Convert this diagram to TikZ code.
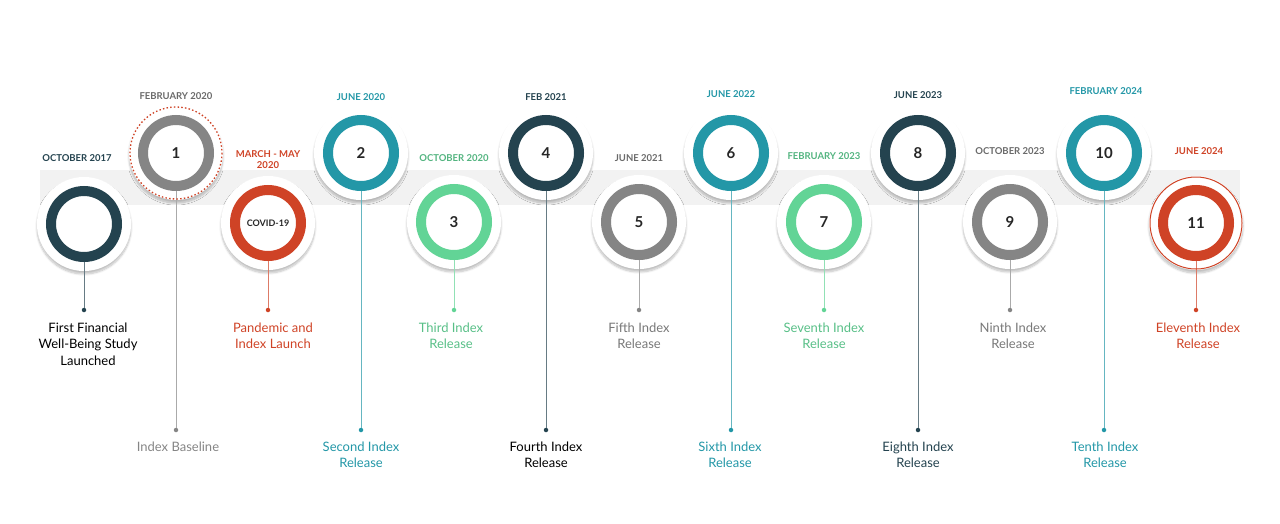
\documentclass[tikz,border=0pt]{standalone}
\usepackage{fontspec}
\setmainfont{Lato}
\usetikzlibrary{shadows.blur}
\definecolor{cdark}{HTML}{24434F}
\definecolor{cgray}{HTML}{858585}
\definecolor{cred}{HTML}{CF4326}
\definecolor{cteal}{HTML}{2397A7}
\definecolor{cgreen}{HTML}{62D496}
\definecolor{band}{HTML}{F2F2F2}
\tikzset{
 halo/.style={circle,fill=white,minimum size=94pt,blur shadow={shadow blur steps=8,shadow xshift=0pt,shadow yshift=-3pt,shadow opacity=25}},
 ring/.style={circle,draw=#1,line width=10pt,fill=white,minimum size=66pt,inner sep=0pt,font=\bfseries\fontsize{15}{15}\selectfont,text=black!85},
 date/.style={font=\bfseries\fontsize{9.5}{11}\selectfont,text=#1,align=center},
 lab/.style={font=\fontsize{13}{16.5}\selectfont,text=#1,align=center,anchor=north},
 stem/.style={draw=#1!70,line width=0.8pt},
 dot/.style={circle,fill=#1,inner sep=0pt,minimum size=4.5pt}
}
\begin{document}
\begin{tikzpicture}[x=1pt,y=-1pt]
\useasboundingbox (0,0) rectangle (1280,523);
\fill[band] (40,170) rectangle (1240,205);
% items: x, up?, color
\foreach \x/\y/\c/\t/\n in {
 84/224/cdark//i0, 176/153/cgray/1/i1, 268/223/cred/{\fontsize{9}{9}\selectfont COVID-19}/i2,
 361/153/cteal/2/i3, 454/222/cgreen/3/i4, 546/153/cdark/4/i5, 639/222/cgray/5/i6,
 731/153/cteal/6/i7, 824/222/cgreen/7/i8, 918/153/cdark/8/i9, 1010/222/cgray/9/i10,
 1104/153/cteal/10/i11, 1196/223/cred/11/i12}{
 \node[halo] at (\x,\y) {};
}
\foreach \x/\y/\c/\t/\n/\e in {
 84/224/cdark//i0/310, 176/153/cgray/1/i1/430, 268/223/cred/{\fontsize{9}{9}\selectfont COVID-19}/i2/310,
 361/153/cteal/2/i3/430, 454/222/cgreen/3/i4/310, 546/153/cdark/4/i5/430, 639/222/cgray/5/i6/310,
 731/153/cteal/6/i7/430, 824/222/cgreen/7/i8/310, 918/153/cdark/8/i9/430, 1010/222/cgray/9/i10/310,
 1104/153/cteal/10/i11/430, 1196/223/cred/11/i12/310}{
 \node[ring=\c] (\n) at (\x,\y) {\t};
 \node[dot=\c] (\n d) at (\x,\e) {};
 \draw[stem=\c] (\n.south) -- (\n d);
}
\draw[cred,line width=1.3pt,dash pattern=on 1.5pt off 2.2pt] (i1) circle (46);
\draw[cred,line width=1pt] (i12) circle (46);
% dates
\node[date=cdark] at (77,158) {OCTOBER 2017};
\node[date=cgray!80!black] at (176,96) {FEBRUARY 2020};
\node[date=cred] at (268,160) {MARCH - MAY\\2020};
\node[date=cteal] at (361,97) {JUNE 2020};
\node[date=cgreen!85!black] at (454,158) {OCTOBER 2020};
\node[date=cdark] at (546,97) {FEB 2021};
\node[date=cgray!80!black] at (639,158) {JUNE 2021};
\node[date=cteal] at (731,94) {JUNE 2022};
\node[date=cgreen!85!black] at (824,156) {FEBRUARY 2023};
\node[date=cdark] at (918,95) {JUNE 2023};
\node[date=cgray!80!black] at (1010,151) {OCTOBER 2023};
\node[date=cteal] at (1106,91) {FEBRUARY 2024};
\node[date=cred] at (1199,151) {JUNE 2024};
% labels
\node[lab=black] at (88,319) {First Financial\\Well-Being Study\\Launched};
\node[lab=cgray] at (178,438) {Index Baseline};
\node[lab=cred] at (273,319) {Pandemic and\\Index Launch};
\node[lab=cteal] at (361,438) {Second Index\\Release};
\node[lab=cgreen!90!black] at (451,319) {Third Index\\Release};
\node[lab=black] at (546,438) {Fourth Index\\Release};
\node[lab=cgray!90!black] at (639,319) {Fifth Index\\Release};
\node[lab=cteal] at (730,438) {Sixth Index\\Release};
\node[lab=cgreen!90!black] at (824,319) {Seventh Index\\Release};
\node[lab=cdark] at (918,438) {Eighth Index\\Release};
\node[lab=cgray!90!black] at (1013,319) {Ninth Index\\Release};
\node[lab=cteal] at (1105,438) {Tenth Index\\Release};
\node[lab=cred] at (1198,319) {Eleventh Index\\Release};
\end{tikzpicture}
\end{document}
